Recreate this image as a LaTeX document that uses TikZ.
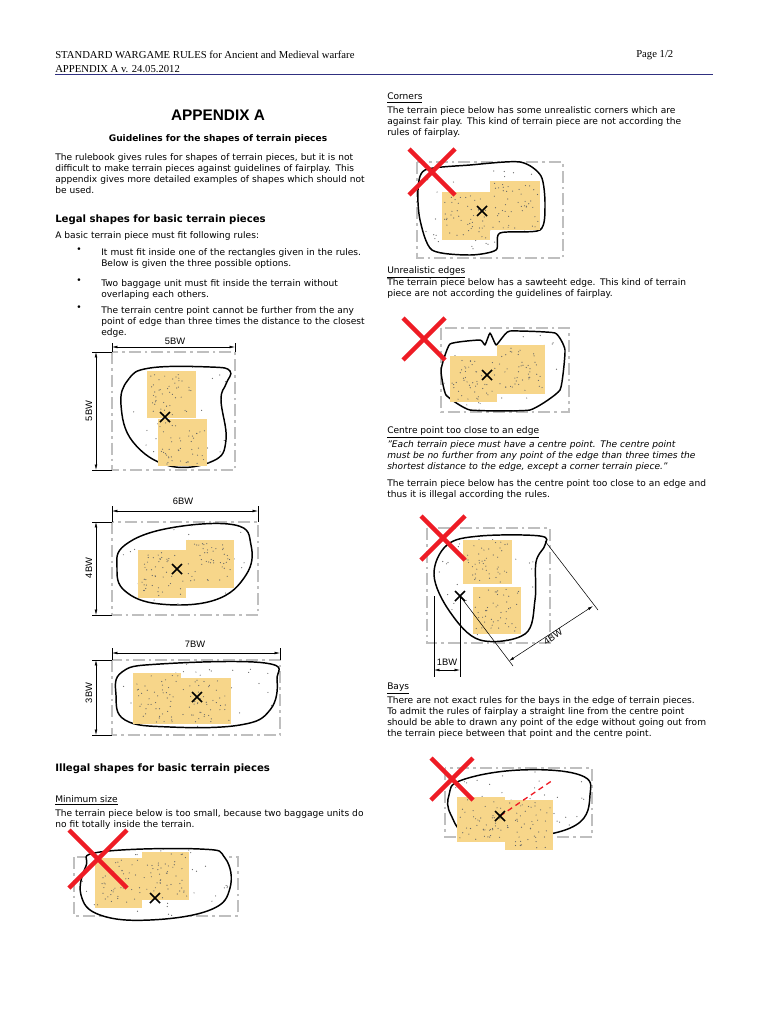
\documentclass[tikz,border=0pt]{standalone}
\usepackage{fontspec}
\setmainfont{DejaVu Sans}
\newfontfamily\serifhead{Liberation Serif}
\newfontfamily\dimfont{Liberation Sans}
\usetikzlibrary{arrows.meta}
\definecolor{sand}{HTML}{F7D68A}
\definecolor{xred}{HTML}{EE1C25}
\definecolor{hline}{HTML}{303080}
\tikzset{
 frame/.style={draw=black!25,line width=1.6pt,dash pattern=on 9pt off 3pt on 2pt off 3pt},
 blobl/.style={draw=black,line width=1.1pt,fill=white},
 sq/.style={fill=sand,draw=none},
 dim/.style={draw=black,line width=0.4pt,{Latex[length=4pt,width=2pt]}-{Latex[length=4pt,width=2pt]}},
 ext/.style={draw=black,line width=0.4pt},
 dl/.style={font=\dimfont\fontsize{7}{8}\selectfont,inner sep=1pt},
 body/.style={font=\fontsize{6.8}{8.3}\selectfont,align=left,anchor=north west,inner sep=0pt},
 bodyR/.style={body,text width=240pt},
 bodyL/.style={body,text width=240pt},
 ul/.style={body},
 redx/.style={draw=xred,line width=3.2pt},
}
\hyphenpenalty=10000 \exhyphenpenalty=10000
\newcommand{\cross}[2]{\draw[line width=1.3pt] (#1-5,#2-5)--(#1+5,#2+5) (#1-5,#2+5)--(#1+5,#2-5);}
\newcommand{\redcross}[3]{\draw[redx] (#1-#3,#2+#3)--(#1+#3,#2-#3) (#1-#3,#2-#3)--(#1+#3,#2+#3);}
\newcommand{\speckle}[4]{\foreach \k in {1,...,45}{\pgfmathsetmacro\rx{#1+rnd*(#2-#1)}\pgfmathsetmacro\ry{#3+rnd*(#4-#3)}\fill[black!60] (\rx,\ry) circle (0.45pt);}}
\begin{document}
\begin{tikzpicture}[x=0.75pt,y=-0.75pt]
\pgfmathsetseed{7}
\useasboundingbox (0,0) rectangle (768,1024);
\fill[white] (0,0) rectangle (768,1024);
% header
\node[anchor=west,font=\serifhead\fontsize{8}{9}\selectfont,inner sep=0] (h1) at (55,55) {STANDARD WARGAME RULES for Ancient and Medieval warfare};
\node[anchor=west,font=\serifhead\fontsize{8}{9}\selectfont,inner sep=0] (h2) at (55,69) {APPENDIX A v. 24.05.2012};
\node[anchor=west,font=\serifhead\fontsize{8}{9}\selectfont,inner sep=0] (pg) at (636,55) {Page 1/2};
\draw[hline,line width=0.6pt] (55,74)--(713,74);
% left column
\node[font=\dimfont\bfseries\fontsize{11.5}{13}\selectfont] (ttl) at (218,115) {APPENDIX A};
\node[font=\bfseries\fontsize{6.8}{8}\selectfont] (sub) at (218,139) {Guidelines for the shapes of terrain pieces};
\node[bodyL] (p1) at (55,153) {The rulebook gives rules for shapes of terrain pieces, but it is not difficult to make terrain pieces against guidelines of fairplay. This appendix gives more detailed examples of shapes which should not be used.};
\node[anchor=west,inner sep=0,font=\bfseries\fontsize{7.6}{9}\selectfont] (leg) at (55,220) {Legal shapes for basic terrain pieces};
\node[bodyL] (p2) at (55,231) {A basic terrain piece must fit following rules:};
\foreach \yy/\txt in {248/{It must fit inside one of the rectangles given in the rules. Below is given the three possible options.},279/{Two baggage unit must fit inside the terrain without overlaping each others.},306/{The terrain centre point cannot be further from the any point of edge than three times the distance to the closest edge.}}{
 \node[body] at (76,\yy) {\textbullet};
 \node[body,text width=206pt] at (101,\yy) {\txt};}
% Diagram 1
\draw[frame] (112,352) rectangle (235,470);
\def\bb{(150,368)(210,367)(230,371)(226,384)(221,400)(226,440)(213,461)(170,466)(133,442)(121,405)(128,380)}
\draw[blobl] plot[smooth cycle,tension=0.7] coordinates {\bb};
\begin{scope}\clip plot[smooth cycle,tension=0.7] coordinates {\bb};
\speckle{115}{235}{360}{470}\end{scope}
\fill[sq] (147,371) rectangle (196,418); \fill[sq] (158,419) rectangle (207,466);
\speckle{150}{194}{374}{416}\speckle{160}{205}{421}{464}
\cross{165}{417}
\draw[ext] (112,343)--(112,352) (235,343)--(235,352) (92,352)--(112,352) (92,470)--(112,470);
\draw[dim] (112,347)--(235,347); \node[dl] (l5a) at (175,341) {5BW};
\draw[dim] (96,352)--(96,470); \node[dl,rotate=90] (l5b) at (89,411) {5BW};
% Diagram 2
\draw[frame] (112,522) rectangle (258,615);
\def\bb{(125,545)(170,528)(235,525)(251,545)(246,575)(215,600)(160,604)(125,591)(117,568)}
\draw[blobl] plot[smooth cycle,tension=0.7] coordinates {\bb};
\begin{scope}\clip plot[smooth cycle,tension=0.7] coordinates {\bb};\speckle{115}{255}{525}{612}\end{scope}
\fill[sq] (138,550) rectangle (186,598); \fill[sq] (186,540) rectangle (234,588);
\speckle{140}{184}{552}{596}\speckle{188}{232}{542}{586}
\cross{177}{569}
\draw[ext] (112,506)--(112,522) (258,506)--(258,522) (92,522)--(112,522) (92,615)--(112,615);
\draw[dim] (112,511)--(258,511); \node[dl] (l6) at (183,501) {6BW};
\draw[dim] (96,522)--(96,615); \node[dl,rotate=90] (l4) at (89,568) {4BW};
% Diagram 3
\draw[frame] (112,660) rectangle (280,735);
\def\bb{(122,672)(160,664)(265,663)(277,680)(270,710)(240,725)(170,727)(125,720)(116,695)}
\draw[blobl] plot[smooth cycle,tension=0.7] coordinates {\bb};
\begin{scope}\clip plot[smooth cycle,tension=0.7] coordinates {\bb};\speckle{115}{278}{662}{730}\end{scope}
\fill[sq] (133,673) rectangle (181,724); \fill[sq] (181,678) rectangle (231,724);
\speckle{135}{179}{675}{722}\speckle{183}{229}{680}{722}
\cross{197}{697}
\draw[ext] (112,648)--(112,660) (280,648)--(280,660) (92,660)--(112,660) (92,735)--(112,735);
\draw[dim] (112,653)--(280,653); \node[dl] (l7) at (195,644) {7BW};
\draw[dim] (96,660)--(96,735); \node[dl,rotate=90] (l3) at (89,693) {3BW};
% Illegal
\node[anchor=west,inner sep=0,font=\bfseries\fontsize{7.6}{9}\selectfont] (ill) at (55,769) {Illegal shapes for basic terrain pieces};
\node[ul] (ms) at (55,795) {\underline{Minimum size}};
\node[bodyL] (p3) at (55,809) {The terrain piece below is too small, because two baggage units do no fit totally inside the terrain.};
\draw[frame] (74,857) rectangle (238,916);
\def\bb{(100,852)(200,849)(225,858)(230,888)(210,910)(150,920)(100,915)(81,895)(86,866)}
\draw[blobl] plot[smooth cycle,tension=0.7] coordinates {\bb};
\begin{scope}\clip plot[smooth cycle,tension=0.7] coordinates {\bb};\speckle{78}{235}{848}{920}\end{scope}
\fill[sq] (95,858) rectangle (142,908); \fill[sq] (142,852) rectangle (189,900);
\speckle{97}{140}{860}{906}\speckle{144}{187}{854}{898}
\cross{155}{898}
\redcross{98}{859}{29}
% right column
\node[ul] (c1) at (387,93) {\underline{Corners}};
\node[bodyR] (p4) at (387,106) {The terrain piece below has some unrealistic corners which are against fair play. This kind of terrain piece are not according the rules of fairplay.};
\draw[frame] (417,162) rectangle (563,258);
\def\bb{(425,170)(470,165)(520,162)(541,176)(545,205)(540,230)(500,233)(496,250)(470,255)(432,250)(420,220)(418,190)}
\draw[blobl] plot[smooth cycle,tension=0.45] coordinates {\bb};
\begin{scope}\clip plot[smooth cycle,tension=0.45] coordinates {\bb};\speckle{418}{548}{162}{256}\end{scope}
\fill[sq] (442,192) rectangle (490,240); \fill[sq] (490,181) rectangle (540,230);
\speckle{444}{488}{194}{238}\speckle{492}{538}{183}{228}
\cross{482}{211}
\redcross{432}{172}{23}
\node[ul] (c2) at (387,266) {\underline{Unrealistic edges}};
\node[bodyR] (p5) at (387,278) {The terrain piece below has a sawteeht edge. This kind of terrain piece are not according the guidelines of fairplay.};
\draw[frame] (441,328) rectangle (569,412);
\def\bb{(450,344)(480,340)(485,345)(490,333)(496,345)(502,338)(510,331)(555,333)(565,350)(560,390)(530,410)(470,410)(446,395)(441,370)}
\draw[blobl,line join=round] plot[smooth cycle,tension=0.25] coordinates {\bb};
\begin{scope}\clip plot[smooth cycle,tension=0.25] coordinates {\bb};\speckle{441}{568}{330}{412}\end{scope}
\fill[sq] (450,356) rectangle (497,402); \fill[sq] (497,345) rectangle (545,394);
\speckle{452}{495}{358}{400}\speckle{499}{543}{347}{392}
\cross{487}{375}
\redcross{424}{339}{21}
\node[ul] (c3) at (387,426) {\underline{Centre point too close to an edge}};
\node[bodyR,font=\itshape\fontsize{6.8}{8.3}\selectfont] (p6) at (387,440) {"Each terrain piece must have a centre point. The centre point must be no further from any point of the edge than three times the shortest distance to the edge, except a corner terrain piece."};
\node[bodyR] (p7) at (387,479) {The terrain piece below has the centre point too close to an edge and thus it is illegal according the rules.};
\draw[frame] (427,528) rectangle (550,643);
\def\bb{(447,545)(480,536)(540,536)(545,545)(536,562)(535,600)(525,634)(480,640)(450,612)(434,575)}
\draw[blobl] plot[smooth cycle,tension=0.6] coordinates {\bb};
\begin{scope}\clip plot[smooth cycle,tension=0.6] coordinates {\bb};\speckle{430}{548}{530}{642}\end{scope}
\fill[sq] (463,540) rectangle (512,584); \fill[sq] (473,587) rectangle (521,634);
\speckle{465}{510}{542}{582}\speckle{475}{519}{589}{632}
\cross{460}{596}
\coordinate (cp) at (460,596); \coordinate (ce) at (545,541);
\draw[ext] (cp)--(513,666) (ce)--(598,610);
\draw[dim] (509,661)--(593,606); \node[dl,rotate=33] (l4b) at (553,637) {4BW};
\draw[ext] (434,596)--(434,677) (cp)--(460,677);
\draw[dim] (434,670)--(460,670); \node[dl] (l1) at (447,662) {1BW};
\redcross{443}{538}{22}
\node[ul] (c4) at (387,683) {\underline{Bays}};
\node[bodyR] (p8) at (387,696) {There are not exact rules for the bays in the edge of terrain pieces. To admit the rules of fairplay a straight line from the centre point should be able to drawn any point of the edge without going out from the terrain piece between that point and the centre point.};
\draw[frame] (445,768) rectangle (592,837);
\def\bb{(462,780)(520,770)(580,775)(590,795)(576,825)(520,838)(470,836)(451,815)(449,795)}
\draw[blobl] plot[smooth cycle,tension=0.7] coordinates {\bb};
\begin{scope}\clip plot[smooth cycle,tension=0.7] coordinates {\bb};\speckle{447}{592}{768}{840}\end{scope}
\fill[sq] (457,797) rectangle (505,842); \fill[sq] (505,800) rectangle (553,850);
\speckle{459}{503}{799}{840}\speckle{507}{551}{802}{848}
\coordinate (bc) at (500,816); \coordinate (be) at (553,780);
\draw[xred,line width=1pt,dash pattern=on 4pt off 3pt] (bc)--(be);
\cross{500}{816}
\redcross{452}{779}{21}
\end{tikzpicture}
\end{document}
